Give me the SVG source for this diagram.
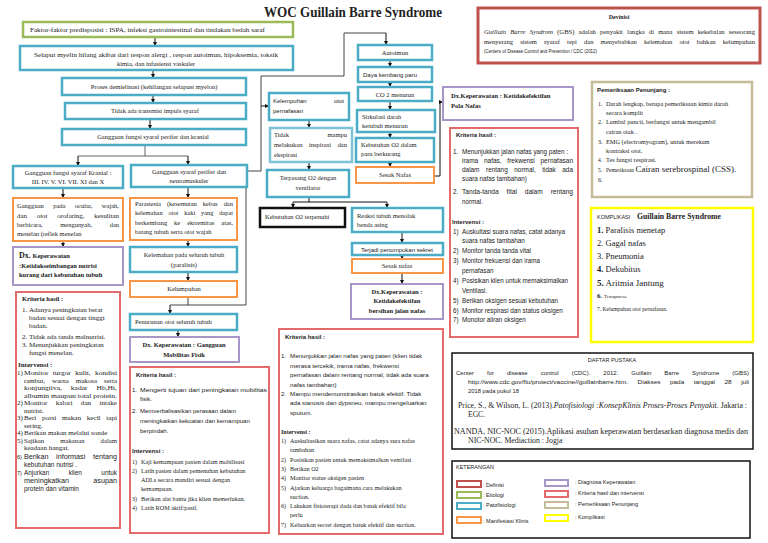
<svg xmlns="http://www.w3.org/2000/svg" width="768" height="543" viewBox="0 0 768 543">
<defs>
<marker id="ah" viewBox="0 0 6 6" refX="6" refY="3" markerWidth="4.5" markerHeight="4.5" orient="auto"><path d="M0,0 L6,3 L0,6z" fill="#111"/></marker>
<style>
.eti{fill:#fff;stroke:#9bbb59;stroke-width:2.5}
.pat{fill:#fff;stroke:#4bacc6;stroke-width:2.5}
.pat2{fill:#fff;stroke:#7cc3d6;stroke-width:2.5}
.man{fill:#fff;stroke:#f79646;stroke-width:2}
.dx{fill:#fff;stroke:#a796c8;stroke-width:2}
.kri{fill:#fff;stroke:#e36b6b;stroke-width:2}
.def{fill:#fff;stroke:#c0504d;stroke-width:3}
.pem{fill:#fff;stroke:#c4bd97;stroke-width:2.5}
.kom{fill:#fff;stroke:#ffff00;stroke-width:2.5}
.blk{fill:#fff;stroke:#111;stroke-width:1.5}
.thk{fill:#fff;stroke:#111;stroke-width:2.5}
text{font-family:"Liberation Serif","Times New Roman",serif;font-size:6.5px;fill:#222}
.s{font-family:"Liberation Sans",Arial,sans-serif;font-size:6px}
.b{font-weight:bold}
.c{text-anchor:middle}
.e{text-anchor:end}
.i{font-style:italic}
.k7{font-size:7px}
.r{font-size:6.3px}
.ln{fill:none;stroke:#111;stroke-width:1}
.lw{fill:none;stroke:#111;stroke-width:1;marker-end:url(#ah)}
</style>
</defs>
<rect width="768" height="543" fill="#fff"/>
<text x="353" y="17" class="c b" style="font-size:14.5px" textLength="178" lengthAdjust="spacingAndGlyphs">WOC Guillain Barre Syndrome</text>

<g id="connectors">
<path class="lw" d="M155,37 V46"/>
<path class="lw" d="M153,70 V78"/>
<path class="lw" d="M153,95 V103"/>
<path class="lw" d="M150,119 V129"/>
<path class="ln" d="M145,145 V156 M78,156 H188" style="stroke:#666"/>
<path class="lw" d="M78,156 V166"/>
<path class="lw" d="M188,156 V165"/>
<path class="lw" d="M63,188 V198"/>
<path class="lw" d="M98,231 V238"/>
<path class="lw" d="M63,241 V247"/>
<path class="lw" d="M188,187 V198"/>
<path class="lw" d="M188,240 V247"/>
<path class="lw" d="M188,272 V281"/>
<path class="ln" d="M188,297 V305 M170,305 H246 V171 H261 V76 H344 V33 H386" style="stroke:#444"/>
<path class="lw" d="M386,33 V45"/>
<path class="lw" d="M170,305 V314"/>
<path class="lw" d="M261,106 H269"/>
<path class="lw" d="M178,330 V337"/>
<path class="lw" d="M390,60 V67"/>
<path class="lw" d="M427,71 V80"/>
<path class="lw" d="M390,82 V87"/>
<path class="lw" d="M390,101 V110"/>
<path class="lw" d="M390,132 V138"/>
<path class="lw" d="M390,156 V167"/>
<path class="ln" d="M434,176 H440 V102"/>
<path class="lw" d="M440,102 H443"/>
<path class="lw" d="M309,120 V128"/>
<path class="lw" d="M309,162 V170"/>
<path class="ln" d="M309,197 V202 M293,202 H387"/>
<path class="lw" d="M293,202 V208"/>
<path class="lw" d="M387,202 V208"/>
<path class="lw" d="M402,232 V243"/>
<path class="lw" d="M402,255 V259"/>
<path class="lw" d="M402,273 V284"/>
</g>

<g id="etiologi">
<rect class="eti" x="23" y="22" width="270" height="15"/>
<text x="30" y="32" textLength="235" lengthAdjust="spacingAndGlyphs">Faktor-faktor predisposisi : ISPA, infeksi gastrointestinal dan tindakan bedah saraf</text>
</g>
<g id="selaput">
<rect class="pat" x="20" y="46" width="273" height="24"/>
<text x="34" y="57" textLength="244" lengthAdjust="spacingAndGlyphs">Selaput myelin hilang akibat  dari respon alergi , respon autoimun, hipoksemia, toksik</text>
<text x="156" y="66" class="c">kimia, dan infusiensi vaskuler</text>
</g>
<g id="demielinasi">
<rect class="pat" x="62" y="78" width="184" height="17"/>
<text x="154" y="89" class="c">Proses demielinasi (kehilangan selapust myelon)</text>
</g>
<g id="transmisi">
<rect class="pat" x="65" y="103" width="181" height="16"/>
<text x="155" y="113" class="c">Tidak ada transmisi impuls syaraf</text>
</g>
<g id="gangguan">
<rect class="pat" x="62" y="129" width="184" height="16"/>
<text x="153" y="139" class="c">Gangguan fungsi syaraf perifer dan kranial</text>
</g>
<g id="kranial">
<rect class="pat" x="13" y="166" width="110" height="22"/>
<text x="68" y="175" class="c">Gangguan fungsi syaraf Kranial :</text>
<text x="68" y="184" class="c">III. IV. V. VI. VII. XI dan X</text>
</g>
<g id="ocular">
<rect class="man" x="13" y="198" width="110" height="43"/>
<text x="17" y="208" style="word-spacing:7.7px" textLength="102" lengthAdjust="spacingAndGlyphs">Gangguan pada ocular, wajah,</text>
<text x="17" y="218" style="word-spacing:7.7px" textLength="102" lengthAdjust="spacingAndGlyphs">dan otot orofaring, kesulitan</text>
<text x="17" y="227" style="word-spacing:16px" textLength="102" lengthAdjust="spacingAndGlyphs">berbicara, mengunyah, dan</text>
<text x="17" y="236">menelan (reflek menelan</text>
</g>
<g id="dx-nutrisi">
<rect class="dx" x="13" y="247" width="110" height="38"/>
<text x="19" y="258" class="b"><tspan style="font-size:8px">Dx.</tspan> Keperawatan</text>
<text x="19" y="268" class="b">:Ketidakseimbangan nutrisi</text>
<text x="19" y="277" class="b">kurang dari kebutuhan tubuh</text>
</g>
<g id="kriteria-nutrisi">
<rect class="kri" x="16" y="292" width="104" height="236"/>
<text x="22" y="301" class="b" style="font-size:6.5px">Kriteria hasil :</text>
<text x="22" y="312" class="k7">1.</text><text x="29" y="312" class="k7">Adanya peningkatan berat</text>
<text x="29" y="320" class="k7">badan sesuai dengan tinggi</text>
<text x="29" y="328" class="k7">badan.</text>
<text x="22" y="339" class="k7">2.</text><text x="29" y="339" class="k7">Tidak ada tanda malnutrisi.</text>
<text x="22" y="347" class="k7">3.</text><text x="29" y="347" class="k7">Menunjukkan peningkatan</text>
<text x="29" y="355" class="k7">fungsi menelan.</text>
<text x="18" y="367" class="b k7">Intervensi :</text>
<text x="17" y="375" class="k7">1)</text><text x="24" y="375" class="k7" style="word-spacing:2.3px" textLength="93" lengthAdjust="spacingAndGlyphs">Monitor turgor kulit, kondisi</text>
<text x="24" y="383" class="k7" style="word-spacing:5.5px" textLength="93" lengthAdjust="spacingAndGlyphs">rambut, warna mukosa serta</text>
<text x="24" y="390" class="k7" style="word-spacing:6.5px" textLength="93" lengthAdjust="spacingAndGlyphs">konjungtiva, kadar Hb,Ht,</text>
<text x="24" y="398" class="k7" textLength="93" lengthAdjust="spacingAndGlyphs">albumin maupun total protein.</text>
<text x="17" y="405" class="k7">2)</text><text x="24" y="405" class="k7" style="word-spacing:6.5px" textLength="93" lengthAdjust="spacingAndGlyphs">Monitor kalori dan intake</text>
<text x="24" y="413" class="k7">nutrisi.</text>
<text x="17" y="420" class="k7">3)</text><text x="24" y="420" class="k7" style="word-spacing:3.7px" textLength="93" lengthAdjust="spacingAndGlyphs">Beri porsi makan kecil tapi</text>
<text x="24" y="428" class="k7">sering.</text>
<text x="17" y="435" class="k7">4)</text><text x="24" y="435" class="k7">Berikan makan melalui sonde</text>
<text x="17" y="443" class="k7">5)</text><text x="24" y="443" class="k7" style="word-spacing:15px" textLength="93" lengthAdjust="spacingAndGlyphs">Sajikan makanan dalam</text>
<text x="24" y="450" class="k7">keadaan hangat.</text>
<text x="17" y="459" class="s" style="font-size:5.5px">6)</text><text x="24" y="459" class="s" style="font-size:6.5px;word-spacing:5px" textLength="93" lengthAdjust="spacingAndGlyphs">Berikan informasi tentang</text>
<text x="24" y="467" class="s" style="font-size:6.5px">kebutuhan nutrisi .</text>
<text x="17" y="475" class="s" style="font-size:5.5px">7)</text><text x="24" y="475" class="s" style="font-size:6.5px;word-spacing:18px" textLength="93" lengthAdjust="spacingAndGlyphs">Anjurkan klien untuk</text>
<text x="24" y="483" class="s" style="font-size:6.5px;word-spacing:20px" textLength="93" lengthAdjust="spacingAndGlyphs">meningkatkan asupan</text>
<text x="24" y="491" class="s" style="font-size:6.5px">protein dan vitamin</text>
</g>

<g id="perifer">
<rect class="pat" x="131" y="165" width="116" height="22"/>
<text x="189" y="174" class="c">Gangguan syaraf perifer dan</text>
<text x="189" y="183" class="c">neuromuskuler</text>
</g>
<g id="parastesia">
<rect class="man" x="130" y="198" width="107" height="42"/>
<text x="135" y="206" style="word-spacing:4.4px" textLength="98" lengthAdjust="spacingAndGlyphs">Parastesia (kesemutan kebas dan</text>
<text x="135" y="215" style="word-spacing:4.3px" textLength="98" lengthAdjust="spacingAndGlyphs">kelemahan otot kaki yang dapat</text>
<text x="135" y="225" style="word-spacing:5.3px" textLength="98" lengthAdjust="spacingAndGlyphs">berkembang ke ektremitas atas,</text>
<text x="135" y="234">batang tubuh serta otot wajah</text>
</g>
<g id="kelemahan">
<rect class="pat" x="130" y="247" width="107" height="25"/>
<text x="184" y="257" class="c">Kelemahan pada seluruh tubuh</text>
<text x="184" y="267" class="c">(paralisis)</text>
</g>
<g id="kelumpuhan">
<rect class="man" x="130" y="281" width="107" height="16"/>
<text x="184" y="291" class="c">Kelumpuhan</text>
</g>
<g id="penurunan">
<rect class="pat" x="130" y="314" width="107" height="16"/>
<text x="135" y="324">Penurunan otot seluruh tubuh</text>
</g>
<g id="dx-mobilitas">
<rect class="dx" x="130" y="337" width="109" height="25"/>
<text x="184" y="347" class="c b">Dx. Keperawatan : Gangguan</text>
<text x="184" y="357" class="c b">Mobilitas Fisik</text>
</g>
<g id="kriteria-mobilitas">
<rect class="kri" x="130" y="367" width="139" height="166"/>
<text x="136" y="377" class="s b">Kriteria hasil :</text>
<text x="132" y="392" class="s">1.</text><text x="140" y="392" class="s" textLength="127" lengthAdjust="spacingAndGlyphs">Mengerti tujuan dari peningkatan mobilitas</text>
<text x="140" y="401" class="s">fisik.</text>
<text x="132" y="413" class="s">2.</text><text x="140" y="413" class="s">Memverbalisasikan perasaan dalam</text>
<text x="140" y="423" class="s">meningkatkan kekuatan dan kemampuan</text>
<text x="140" y="433" class="s">berpindah.</text>
<text x="132" y="453" class="s b">Intervensi :</text>
<text x="132" y="464" style="font-size:6px">1)</text><text x="141" y="464" style="font-size:6.2px">Kaji kemampuan pasien dalam mobilisasi</text>
<text x="132" y="473" style="font-size:6px">2)</text><text x="141" y="473" style="font-size:6.2px">Latih pasien dalam  pemenuhan kebutuhan</text>
<text x="141" y="482" style="font-size:6.2px">ADLs secara mandiri sesuai dengan</text>
<text x="141" y="491" style="font-size:6.2px">kemampuan.</text>
<text x="132" y="501" style="font-size:6px">3)</text><text x="141" y="501" style="font-size:6.2px">Berikan alat bantu jika klien memerlukan.</text>
<text x="132" y="510" style="font-size:6px">4)</text><text x="141" y="510" style="font-size:6.2px">Latih ROM aktif/pasif.</text>
</g>

<g id="kelempuhan-napas">
<rect class="pat" x="269" y="93" width="80" height="27"/>
<text x="273" y="103" class="s">Kelempuhan</text>
<text x="344" y="103" class="s e">otot</text>
<text x="273" y="113" class="s">pernafasan</text>
</g>
<g id="tidak-mampu">
<rect class="pat2" x="270" y="128" width="82" height="34"/>
<text x="274" y="137">Tidak</text>
<text x="347" y="137" class="e">mampu</text>
<text x="274" y="147" style="word-spacing:5px" textLength="73" lengthAdjust="spacingAndGlyphs">melakukan inspirasi dan</text>
<text x="274" y="157">ekspirasi</text>
</g>
<g id="terpasang">
<rect class="pat" x="267" y="170" width="82" height="27"/>
<text x="308" y="180" class="c">Terpasang O2 dengan</text>
<text x="308" y="190" class="c">ventilator</text>
</g>
<g id="terpenuhi">
<rect class="thk" x="260" y="208" width="85" height="19"/>
<text x="265" y="219">Kebutuhan O2 terpenuhi</text>
</g>
<g id="reaksi">
<rect class="pat" x="352" y="208" width="91" height="24"/>
<text x="357" y="218">Reaksi tubuh menolak</text>
<text x="357" y="227">benda asing</text>
</g>
<g id="sekret">
<rect class="pat" x="352" y="243" width="91" height="12"/>
<text x="397" y="252" class="s c">Terjadi penumpukan sekret</text>
</g>
<g id="sesak2">
<rect class="man" x="352" y="259" width="91" height="14"/>
<text x="397" y="268" class="c">Sesak nafas</text>
</g>
<g id="dx-bersihan">
<rect class="dx" x="351" y="284" width="92" height="35"/>
<text x="397" y="294" class="c b">Dx.Keperawatan :</text>
<text x="397" y="303" class="c b">Ketidakefektifan</text>
<text x="397" y="313" class="c b">bersihan jalan nafas</text>
</g>
<g id="kriteria-bersihan">
<rect class="kri" x="279" y="329" width="164" height="205"/>
<text x="285" y="339" class="s b">Kriteria hasil :</text>
<text x="281" y="358" class="s">1.</text><text x="290" y="358" class="s" style="font-size:6.2px">Menunjukkan jalan nafas yang paten  (klien tidak</text>
<text x="290" y="368" class="s" style="font-size:6.2px">merasa tercekik, irama nafas, frekwensi</text>
<text x="290" y="377" class="s" style="font-size:6.2px">pernafasan dalam rentang normal, tidak ada suara</text>
<text x="290" y="387" class="s" style="font-size:6.2px">nafas tambahan)</text>
<text x="281" y="396" class="s">2.</text><text x="290" y="396" class="s" style="font-size:6.2px">Mampu mendemonstrasikan batuk efektif. Tidak</text>
<text x="290" y="405" class="s" style="font-size:6.2px">ada sianosis dan dypsneu, mampu mengeluarkan</text>
<text x="290" y="415" class="s" style="font-size:6.2px">sputum.</text>
<text x="281" y="434" class="b" style="font-size:6px">Intervensi :</text>
<text x="281" y="443" style="font-size:6px">1)</text><text x="290" y="443" style="font-size:6.2px">Auskultasikan suara nafas, catat adanya sura nafas</text>
<text x="290" y="452" style="font-size:6.2px">tambahan</text>
<text x="281" y="462" style="font-size:6px">2)</text><text x="290" y="462" style="font-size:6.2px">Posisikan pasien untuk memaksimalkan ventilasi</text>
<text x="281" y="471" style="font-size:6px">3)</text><text x="290" y="471" style="font-size:6.2px">Berikan O2</text>
<text x="281" y="480" style="font-size:6px">4)</text><text x="290" y="480" style="font-size:6.2px">Monitor status oksigen pasien</text>
<text x="281" y="490" style="font-size:6px">5)</text><text x="290" y="490" style="font-size:6.2px">Ajarkan keluarga bagaimana cara melakukan</text>
<text x="290" y="499" style="font-size:6.2px">suction.</text>
<text x="281" y="508" style="font-size:6px">6)</text><text x="290" y="508" style="font-size:6.2px">Lakukan fisioterapi dada dan batuk efektif bila</text>
<text x="290" y="517" style="font-size:6.2px">perlu</text>
<text x="281" y="527" style="font-size:6px">7)</text><text x="290" y="527" style="font-size:6.2px">Keluarkan secret dengan batuk efektif dan suction.</text>
</g>

<g id="autoimun">
<rect class="pat" x="358" y="45" width="74" height="15"/>
<text x="395" y="55" class="c">Autoimun</text>
</g>
<g id="daya-kembang">
<rect class="pat" x="358" y="67" width="74" height="15"/>
<text x="363" y="77" class="s">Daya kembang paru</text>
</g>
<g id="co2">
<rect class="pat" x="358" y="87" width="74" height="14"/>
<text x="395" y="97" class="c">CO 2 menurun</text>
</g>
<g id="sirkulasi">
<rect class="pat" x="357" y="110" width="78" height="22"/>
<text x="362" y="119">Sirkulasi darah</text>
<text x="362" y="128">ketubuh menurun</text>
</g>
<g id="kebutuhan-o2">
<rect class="pat" x="356" y="138" width="78" height="24"/>
<text x="361" y="147">Kebutuhan O2 dalam</text>
<text x="361" y="156">paru berkurang</text>
</g>
<g id="sesak1">
<rect class="man" x="356" y="167" width="78" height="16"/>
<text x="395" y="177" class="c">Sesak Nafas</text>
</g>
<g id="dx-pola">
<rect class="dx" x="443" y="87" width="130" height="33"/>
<text x="451" y="98" class="b">Dx.Keperawatan :  Ketidakefektifan</text>
<text x="451" y="108" class="b">Pola Nafas</text>
</g>
<g id="kriteria-pola">
<rect class="kri" x="450" y="128" width="128" height="209"/>
<text x="456" y="137" class="s b">Kriteria hasil :</text>
<text x="453" y="154" class="s r">1.</text><text x="462" y="154" class="s r">Menunjukkan jalan nafas yang paten :</text>
<text x="462" y="163" class="s r" style="word-spacing:3.8px" textLength="111" lengthAdjust="spacingAndGlyphs">irama nafas, frekwensi pernafasan</text>
<text x="462" y="172" class="s r" style="word-spacing:4.7px" textLength="111" lengthAdjust="spacingAndGlyphs">dalam rentang normal, tidak ada</text>
<text x="462" y="181" class="s r">suara nafas tambahan)</text>
<text x="453" y="194" class="s r">2.</text><text x="462" y="194" class="s r" style="word-spacing:5.8px" textLength="111" lengthAdjust="spacingAndGlyphs">Tanda-tanda fital dalam rentang</text>
<text x="462" y="204" class="s r">normal.</text>
<text x="452" y="224" class="s b">Intervensi :</text>
<text x="453" y="234" class="s r">1)</text><text x="462" y="234" class="s r">Auskultasi suara nafas, catat adanya</text>
<text x="462" y="243" class="s r">suara nafas tambahan</text>
<text x="453" y="253" class="s r">2)</text><text x="462" y="253" class="s r">Monitor tanda tanda vital</text>
<text x="453" y="263" class="s r">3)</text><text x="462" y="263" class="s r">Monitor frekuensi dan irama</text>
<text x="462" y="273" class="s r">pernafasan</text>
<text x="453" y="283" class="s r">4)</text><text x="462" y="283" class="s r">Posisikan klien untuk memaksimalkan</text>
<text x="462" y="293" class="s r">Ventilasi.</text>
<text x="453" y="303" class="s r">5)</text><text x="462" y="303" class="s r">Berikan oksigen sesuai kebutuhan</text>
<text x="453" y="313" class="s r">6)</text><text x="462" y="313" class="s r">Monitor respirasi dan status oksigen</text>
<text x="453" y="322" class="s r">7)</text><text x="462" y="322" class="s r">Monotor aliran oksigen</text>
</g>

<g id="definisi">
<rect class="def" x="478" y="8" width="282" height="55"/>
<text x="619" y="19" class="c b" style="font-size:6px">Devinisi</text>
<text x="484" y="34" style="font-size:6.8px;word-spacing:2.5px" textLength="271" lengthAdjust="spacingAndGlyphs"><tspan class="i">Guillain Barre Syndrom</tspan> (GBS) adalah penyakit langka di mana sistem kekebalan seseorang</text>
<text x="484" y="44" style="font-size:6.8px;word-spacing:5.7px" textLength="271" lengthAdjust="spacingAndGlyphs">menyerang sistem syaraf tepi dan menyebabkan kelemahan otot bahkan kelumpuhan</text>
<text x="484" y="53" class="s" textLength="113" lengthAdjust="spacingAndGlyphs">(Centers of Disease Control and Prevention / CDC (2012)</text>
</g>

<g id="pemeriksaan">
<rect class="pem" x="592" y="82" width="160" height="115"/>
<text x="597" y="92" class="s b">Pemeriksaan Penunjang :</text>
<text x="598" y="106" style="font-size:6px">1.</text><text x="606" y="106" style="font-size:6.3px">Darah lengkap, berupa pemeriksaan kimia darah</text>
<text x="606" y="115" style="font-size:6.3px">secara komplit</text>
<text x="598" y="124" style="font-size:6px">2.</text><text x="606" y="124" style="font-size:6.3px">Lumbal puncti, berfungsi untuk mengambil</text>
<text x="606" y="134" style="font-size:6.3px">cairan otak .</text>
<text x="598" y="144" style="font-size:6px">3.</text><text x="606" y="144" style="font-size:6.3px">EMG (electromyogram), untuk merekam</text>
<text x="606" y="153" style="font-size:6.3px">kontraksi otot.</text>
<text x="598" y="162" style="font-size:5.5px">4.</text><text x="606" y="162" style="font-size:6.3px">Tes fungsi respirasi.</text>
<text x="598" y="172" style="font-size:5.5px">5.</text><text x="606" y="172" style="font-size:5.5px">Pemeriksaan <tspan style="font-size:9px">Cairan serebrospinal (CSS).</tspan></text>
<text x="598" y="182" style="font-size:6px">6.</text>
</g>

<g id="komplikasi">
<rect class="kom" x="591" y="208" width="162" height="134"/>
<text x="597" y="219" class="s" style="font-size:5.5px">KOMPLIKASI</text>
<text x="637" y="219" class="b" style="font-size:9px" textLength="84" lengthAdjust="spacingAndGlyphs">Guillain Barre Syndrome</text>
<text x="597" y="233" style="font-size:8.5px"><tspan class="b">1.</tspan> Paralisis menetap</text>
<text x="597" y="246" style="font-size:8.5px">2.  Gagal nafas</text>
<text x="597" y="259" style="font-size:8.5px">3.  Pneumonia</text>
<text x="597" y="272" style="font-size:8.5px"><tspan class="b">4.</tspan> Dekubitus</text>
<text x="597" y="286" style="font-size:9px"><tspan class="b">5.</tspan> Aritmia Jantung</text>
<text x="597" y="298" style="font-size:7px"><tspan class="b">6.</tspan>  <tspan style="font-size:5px">Tetraparese</tspan></text>
<text x="597" y="311" style="font-size:5.5px">7.   Kelumpuhan otot pernafasan.</text>
</g>

<g id="daftar-pustaka">
<rect class="blk" x="452" y="353" width="301" height="96"/>
<text x="612" y="362" class="s c" style="font-size:5.5px">DAFTAR PUSTAKA</text>
<text x="456" y="375" class="s" style="font-size:5.8px;word-spacing:11px" textLength="293" lengthAdjust="spacingAndGlyphs">Center for disease control (CDC). 2012. Guillain Barre Syndrome (GBS)</text>
<text x="468" y="384" class="s" style="font-size:5.8px;word-spacing:7px" textLength="281" lengthAdjust="spacingAndGlyphs">http://www.cdc.gov/flu/protect/vaccine//guillainbarre.htm. Diakses pada tanggal 28 juli</text>
<text x="468" y="393" class="s" style="font-size:5.8px">2018 pada pukul 18</text>
<text x="458" y="408" style="font-size:7.6px" textLength="289" lengthAdjust="spacingAndGlyphs">Price, S., &amp; Wilson, L. (2013).<tspan class="i">Patofisiologi :KonsepKlinis Proses-Proses Penyakit</tspan>. Jakarta :</text>
<text x="468" y="417" style="font-size:7.6px">EGC.</text>
<text x="454" y="434" style="font-size:7.8px" textLength="294" lengthAdjust="spacingAndGlyphs">NANDA, NIC-NOC (2015).Aplikasi asuhan keperawatan berdasarkan diagnosa medis dan</text>
<text x="468" y="443" style="font-size:7.8px">NIC-NOC. Mediaction : Jogja</text>
</g>

<g id="keterangan">
<rect class="blk" x="452" y="461" width="298" height="77"/>
<text x="456" y="469" class="s" style="font-size:5.5px">KETERANGAN</text>
<rect class="def" x="457" y="481" width="24" height="6" style="stroke-width:2"/>
<text x="483" y="487" class="s" style="font-size:5.5px">: Definisi</text>
<rect class="eti" x="457" y="492" width="24" height="6" style="stroke-width:2"/>
<text x="483" y="497" class="s" style="font-size:5.5px">: Etiologi</text>
<rect class="pat" x="457" y="503" width="24" height="6" style="stroke-width:2"/>
<text x="483" y="507" class="s" style="font-size:5.5px">: Patofisiologi</text>
<rect class="man" x="457" y="517" width="24" height="6" style="stroke-width:2"/>
<text x="483" y="523" class="s" style="font-size:5.5px">: Manifestasi Klinis</text>
<rect class="dx" x="545" y="480" width="23" height="6"/>
<text x="575" y="484" class="s" style="font-size:5.5px">: Diagnosa Keperawatan</text>
<rect class="kri" x="545" y="491" width="23" height="6"/>
<text x="575" y="495" class="s" style="font-size:5.5px">: Kriteria hasil dan intervensi</text>
<rect class="pem" x="545" y="502" width="23" height="6" style="stroke-width:2"/>
<text x="575" y="506" class="s" style="font-size:5.5px">: Pemeriksaan Penunjang</text>
<rect class="kom" x="545" y="515" width="23" height="6" style="stroke-width:2"/>
<text x="575" y="519" class="s" style="font-size:5.5px">: Komplikasi</text>
</g>
</svg>
